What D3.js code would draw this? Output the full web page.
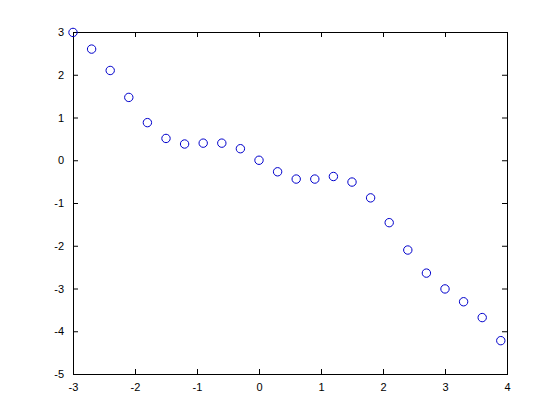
<!DOCTYPE html>
<html>
<head>
<meta charset="utf-8">
<script src="https://cdn.jsdelivr.net/npm/d3@7"></script>
<style>
  body { margin: 0; background: #fff; }
  svg text { font-family: "Liberation Sans", Arial, Helvetica, sans-serif; font-size: 11px; fill: #000; }
</style>
</head>
<body>
<div id="chart"></div>
<script>
// values
const xValues = [-3.0, -2.7, -2.4, -2.1, -1.8, -1.5, -1.2, -0.9, -0.6, -0.3, 0.0, 0.3,
                 0.6, 0.9, 1.2, 1.5, 1.8, 2.1, 2.4, 2.7, 3.0, 3.3, 3.6, 3.9];
const yValues = [2.99, 2.60, 2.10, 1.47, 0.88, 0.51, 0.38, 0.40, 0.40, 0.27, 0.0, -0.27,
                 -0.44, -0.44, -0.38, -0.51, -0.88, -1.46, -2.10, -2.64, -3.01, -3.31, -3.68, -4.22];
const xTicks = [-3, -2, -1, 0, 1, 2, 3, 4];
const yTicks = [-5, -4, -3, -2, -1, 0, 1, 2, 3];

const W = 560, H = 420;
const margin = { left: 73, right: 53, top: 32, bottom: 46 };
const pw = W - margin.left - margin.right;
const ph = H - margin.top - margin.bottom;

const svg = d3.select('#chart').append('svg')
    .attr('width', W)
    .attr('height', H);

const g = svg.append('g')
    .attr('transform', `translate(${margin.left},${margin.top})`);

const x = d3.scaleLinear().domain([-3, 4]).range([0, pw]);
const y = d3.scaleLinear().domain([-5, 3]).range([ph, 0]);

// plain hyphen minus, like the original
const fmt = d => String(d);

// 축 (눈금은 안쪽으로, 네 변 모두)
function styleAxis(sel) {
    sel.select('.domain').remove();
    sel.selectAll('.tick line').attr('stroke', '#000');
}

g.append('g')
    .attr('transform', `translate(0,${ph})`)
    .call(d3.axisBottom(x).tickValues(xTicks).tickSizeInner(-5).tickSizeOuter(0).tickPadding(9).tickFormat(fmt))
    .call(styleAxis);

g.append('g')
    .call(d3.axisTop(x).tickValues(xTicks).tickSizeInner(-5).tickSizeOuter(0).tickFormat(''))
    .call(styleAxis);

g.append('g')
    .call(d3.axisLeft(y).tickValues(yTicks).tickSizeInner(-5).tickSizeOuter(0).tickPadding(9).tickFormat(fmt))
    .call(styleAxis);

g.append('g')
    .attr('transform', `translate(${pw},0)`)
    .call(d3.axisRight(y).tickValues(yTicks).tickSizeInner(-5).tickSizeOuter(0).tickFormat(''))
    .call(styleAxis);

g.selectAll('.tick text').style('font-size', '11px').attr('fill', '#000');

// 테두리
g.append('rect')
    .attr('width', pw)
    .attr('height', ph)
    .attr('fill', 'none')
    .attr('stroke', '#000')
    .attr('stroke-width', 1)
    .attr('shape-rendering', 'crispEdges');

// 점
g.selectAll('circle.pt')
    .data(xValues.map((v, i) => [v, yValues[i]]))
    .join('circle')
    .attr('class', 'pt')
    .attr('cx', d => x(d[0]))
    .attr('cy', d => y(d[1]))
    .attr('r', 4.2)
    .attr('fill', 'none')
    .attr('stroke', '#0000cc')
    .attr('stroke-width', 1);
</script>
</body>
</html>
